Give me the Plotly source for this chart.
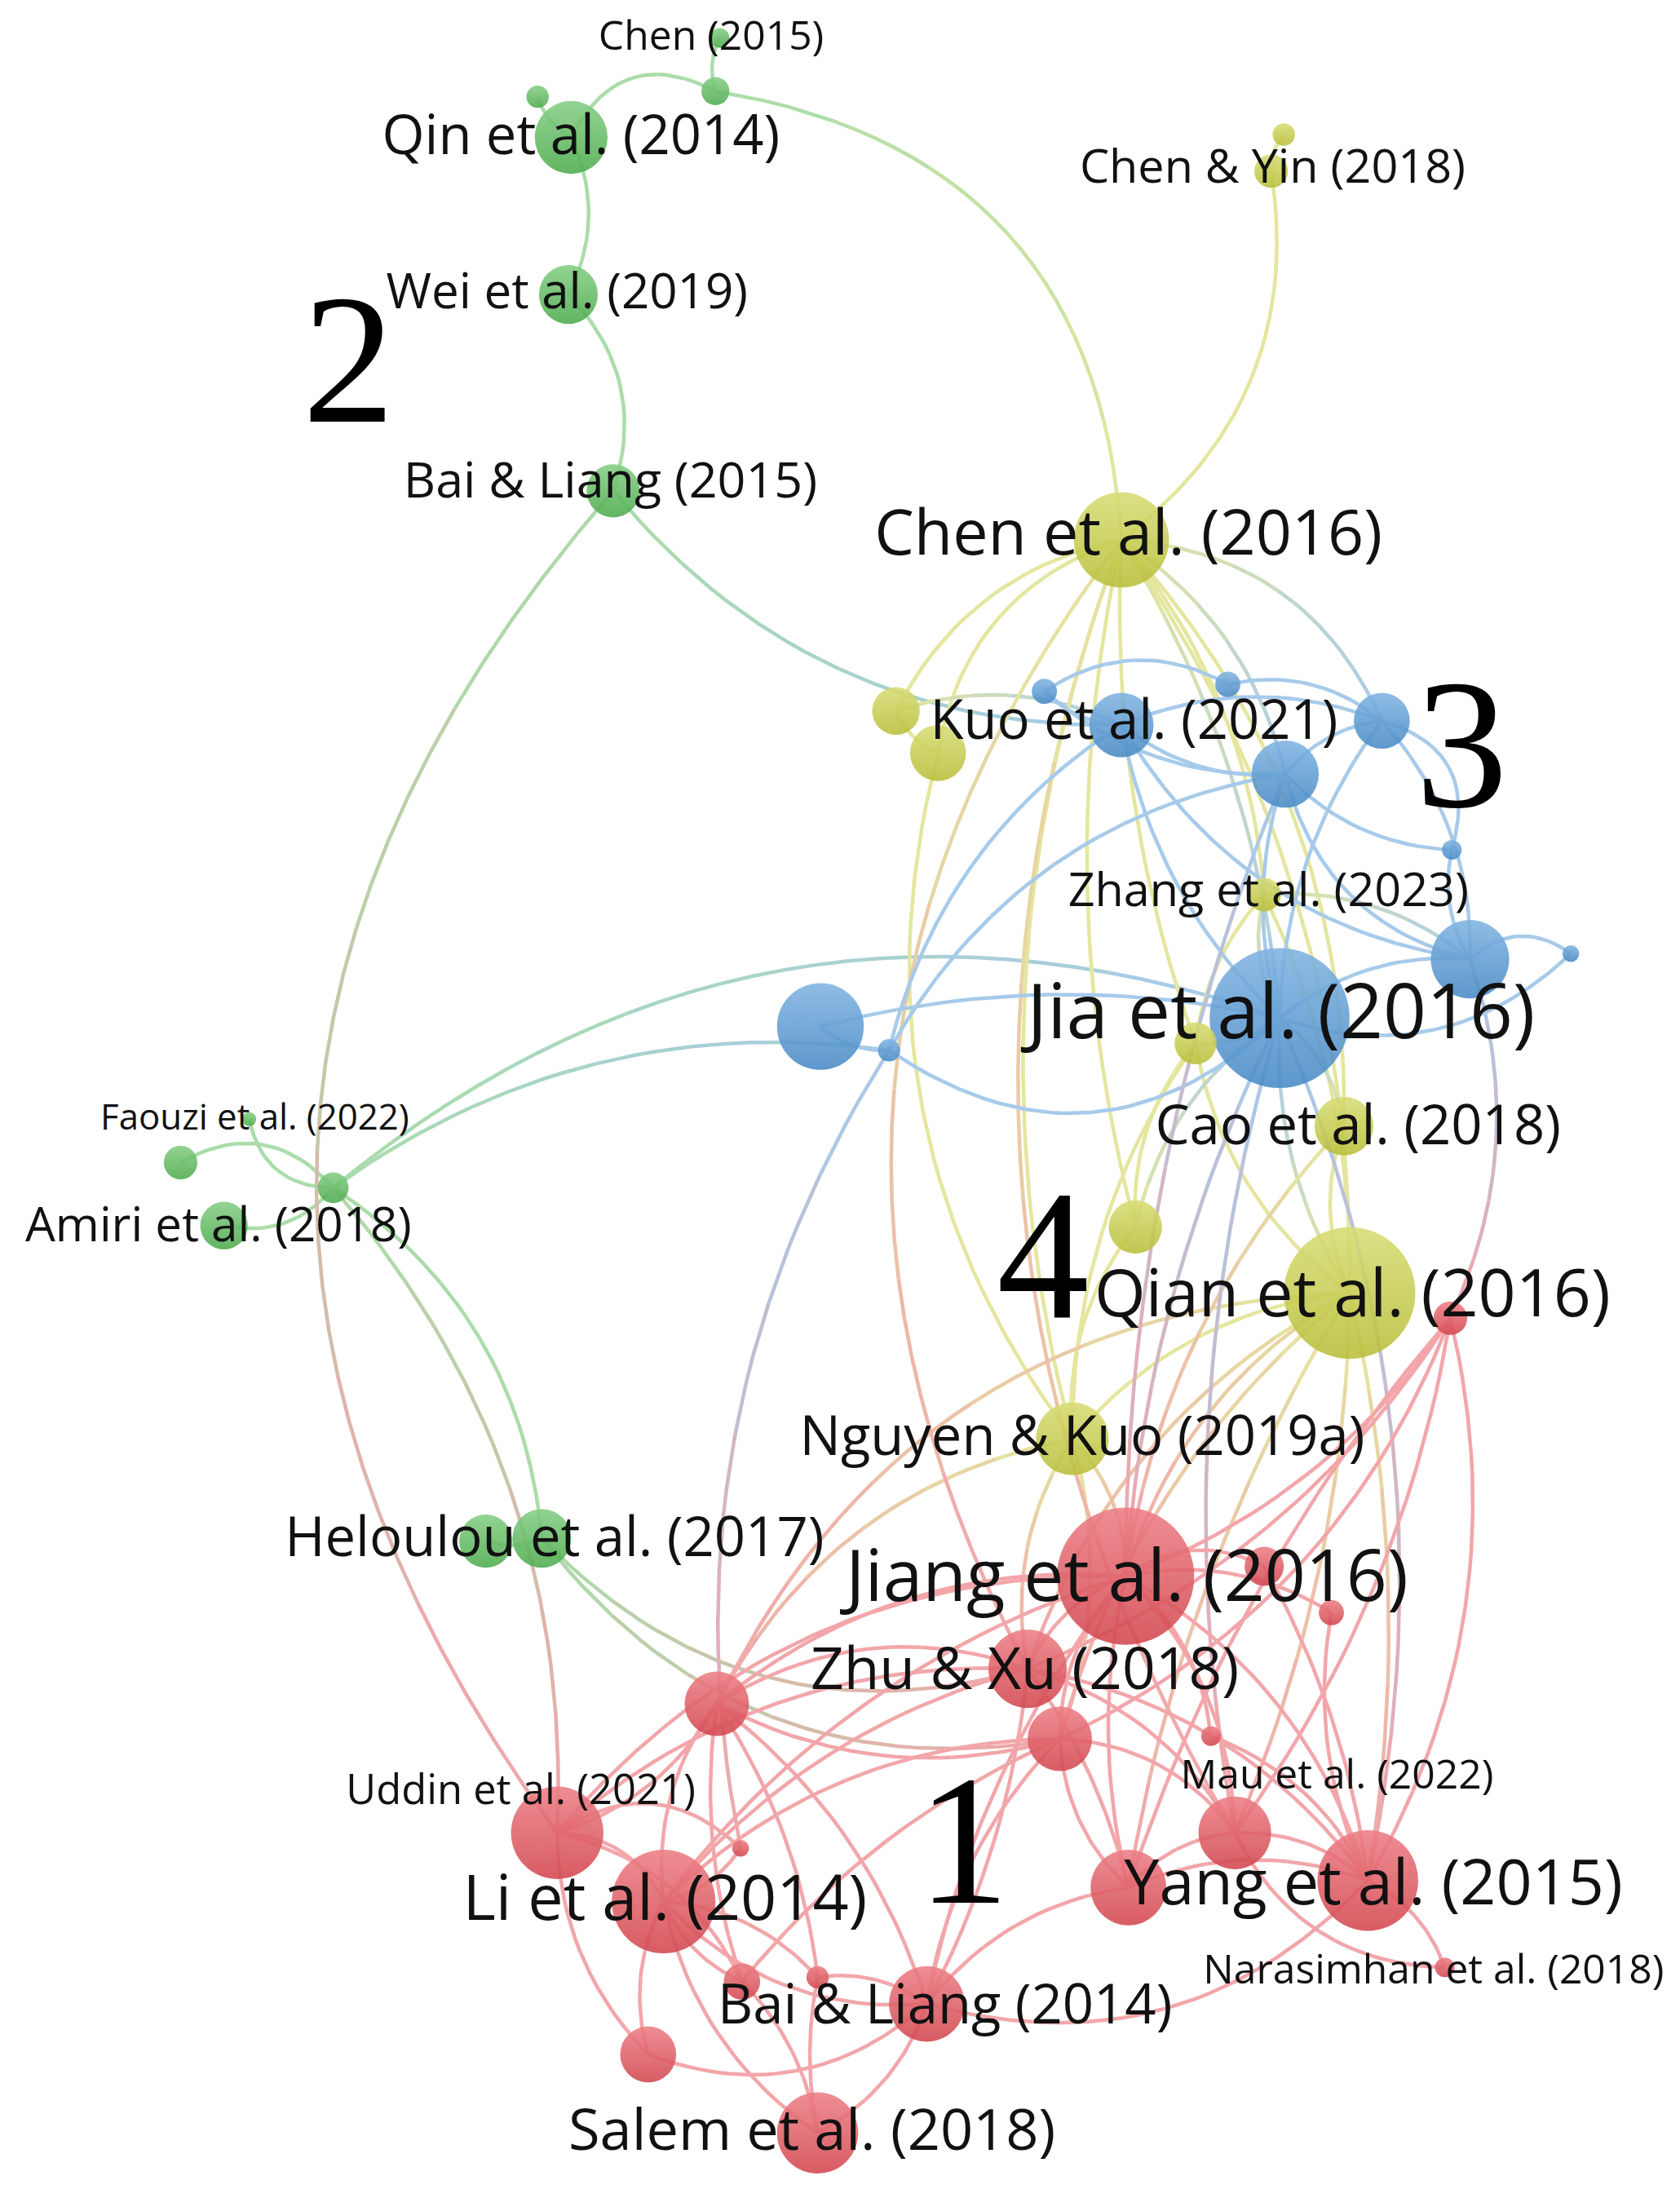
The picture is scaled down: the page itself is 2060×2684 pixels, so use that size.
import plotly.graph_objects as go

# ---------------- data (coordinates in a 1200 x 1561 map space) ----------------
node_ids = ["g_chen15", "g_n2", "g_n3", "g_qin", "g_wei", "g_bai15", "g_faouzi", "g_n129", "g_hub",
            "g_amiri", "g_hel1", "g_hel2",
            "y_cys", "y_chenyin", "y_chen16", "y_640", "y_670", "y_zhang", "y_854", "y_cao", "y_811",
            "y_qian", "y_nguyen",
            "b_746", "b_877", "b_kuo", "b_985", "b_917", "b_1036", "b_1050", "b_1121", "b_jia", "b_585", "b_635",
            "r_1035", "r_jiang", "r_903", "r_950", "r_zhu", "r_511", "r_756", "r_864", "r_mau", "r_uddin",
            "r_528", "r_li", "r_806", "r_yang", "r_nara", "r_530", "r_585", "r_bai14", "r_463", "r_salem"]
node_x = [514, 511, 384, 408, 406, 438, 178, 129, 238, 160, 347, 387,
          917, 908, 801, 640, 670, 903, 854, 960, 811, 964, 766,
          746, 877, 801, 987, 918, 1037, 1050, 1122, 914, 586, 635,
          1036, 804, 903, 951, 734, 512, 757, 865, 882, 398, 529, 474, 806, 977, 1032, 530, 584, 662, 463, 584]
node_y = [27, 65, 69, 98, 210, 350, 798, 829, 847, 874, 1099, 1097,
          96, 122, 385, 507, 537, 638, 744, 803, 875, 922, 1026,
          493, 488, 517, 514, 552, 606, 684, 680, 726, 732, 749,
          940, 1124, 1117, 1150, 1190, 1215, 1240, 1238, 1307, 1307, 1318, 1356, 1346, 1341, 1403, 1413, 1410,
          1429, 1465, 1521]
node_r = [7, 10, 8, 26, 21, 19, 5, 12, 11, 17, 19, 21,
          8, 12, 34, 17, 20, 12, 15, 21, 19, 47, 26,
          9, 9, 23, 20, 24, 7, 28, 6, 50, 31, 8,
          12, 49, 14, 9, 28, 23, 23, 7, 26, 33, 6, 37, 27, 36, 7, 13, 8, 27, 20, 29]
node_cluster = [2] * 12 + [4] * 11 + [3] * 11 + [1] * 20

label_text = ["Chen (2015)", "Qin et al. (2014)", "Wei et al. (2019)", "Bai & Liang (2015)",
              "Chen & Yin (2018)", "Chen et al. (2016)", "Kuo et al. (2021)", "Zhang et al. (2023)",
              "Jia et al. (2016)", "Cao et al. (2018)", "Faouzi et al. (2022)", "Amiri et al. (2018)",
              "Qian et al. (2016)", "Nguyen & Kuo (2019a)", "Heloulou et al. (2017)", "Jiang et al. (2016)",
              "Zhu & Xu (2018)", "Uddin et al. (2021)", "Mau et al. (2022)", "Li et al. (2014)",
              "Yang et al. (2015)", "Narasimhan et al. (2018)", "Bai & Liang (2014)", "Salem et al. (2018)"]
label_x = [508, 415, 405, 436, 909, 806, 810, 906, 915, 970, 182, 156, 966, 773, 396, 805, 732, 372,
           955, 475, 981, 1024, 675, 580]
label_y = [28, 100, 211, 346, 122, 384, 517, 638, 727, 806, 799, 877, 927, 1028, 1100, 1129, 1194, 1279,
           1268, 1358, 1347, 1407, 1433, 1523]
label_size = [29, 39, 35, 35.5, 33.5, 45, 39, 33.5, 54, 39, 25.5, 34, 47, 39, 39, 51, 41.5, 29.5,
              29, 45, 45, 29, 39, 41]

cluster_text = ["1", "2", "3", "4"]
cluster_x = [688, 249, 1044, 745]
cluster_y = [1324, 268, 542, 907]

# links: (source, target, bulge)
edges = [
    ("g_chen15", "g_n2", 0.1), ("g_n2", "g_qin", 0.25), ("g_n2", "y_chen16", -0.2), ("g_n3", "g_qin", 0.1),
    ("g_qin", "g_wei", -0.12), ("g_wei", "g_bai15", -0.15), ("g_bai15", "r_uddin", 0.2),
    ("g_bai15", "b_kuo", 0.12), ("g_hub", "b_jia", -0.14), ("g_hub", "b_635", -0.1),
    ("g_hub", "g_hel2", -0.12), ("g_hub", "r_uddin", -0.1), ("g_n129", "g_hub", -0.2),
    ("g_amiri", "g_hub", 0.15), ("g_faouzi", "g_hub", 0.2), ("g_hel2", "r_zhu", 0.15),
    ("g_hel2", "r_756", 0.15), ("g_hel1", "g_hel2", 0.1),
    ("y_chenyin", "y_chen16", -0.15), ("y_cys", "y_chenyin", 0.1), ("y_chen16", "y_670", 0.15),
    ("y_chen16", "y_640", 0.12), ("y_chen16", "y_zhang", -0.08), ("y_chen16", "b_jia", -0.06),
    ("y_chen16", "y_cao", -0.1), ("y_chen16", "y_qian", -0.08), ("y_chen16", "y_854", 0.05),
    ("y_chen16", "b_917", -0.1), ("y_chen16", "b_985", -0.15), ("y_chen16", "y_811", 0.06),
    ("y_chen16", "y_nguyen", 0.08), ("y_chen16", "r_zhu", 0.16), ("y_chen16", "r_mau", 0.12),
    ("y_670", "y_nguyen", 0.12), ("y_640", "y_670", 0.1), ("y_640", "b_kuo", -0.1),
    ("y_811", "b_jia", -0.1), ("y_811", "y_nguyen", 0.1), ("y_854", "y_qian", 0.1),
    ("y_854", "y_nguyen", 0.08), ("y_854", "b_jia", 0.1), ("y_cao", "y_qian", 0.1),
    ("y_cao", "b_jia", 0.1), ("y_zhang", "b_jia", 0.1), ("y_zhang", "y_qian", -0.06),
    ("y_zhang", "b_1050", -0.1), ("y_qian", "y_nguyen", 0.1), ("y_qian", "b_jia", -0.08),
    ("y_854", "y_811", 0.1), ("y_zhang", "y_854", 0.08),
    ("b_746", "b_kuo", 0.1), ("b_746", "b_877", -0.15), ("b_877", "b_985", -0.12),
    ("b_kuo", "b_917", 0.1), ("b_kuo", "b_jia", 0.08), ("b_kuo", "b_1050", 0.12),
    ("b_985", "b_917", 0.1), ("b_985", "b_1036", -0.25), ("b_985", "b_jia", 0.08),
    ("b_985", "b_1050", -0.1), ("b_917", "b_jia", 0.08), ("b_917", "b_1036", 0.1),
    ("b_917", "b_1050", 0.15), ("b_1036", "b_1050", 0.1), ("b_1050", "b_1121", -0.2),
    ("b_1121", "b_jia", -0.15), ("b_jia", "b_1050", -0.1), ("b_585", "b_635", 0.1),
    ("b_585", "b_jia", -0.06), ("b_635", "b_jia", 0.2), ("b_635", "b_kuo", -0.1),
    ("b_635", "b_917", -0.12), ("b_kuo", "b_985", -0.1), ("b_746", "b_917", 0.1),
    ("b_635", "r_528", 0.1), ("b_1050", "r_1035", -0.1), ("b_jia", "r_jiang", 0.05),
    ("b_jia", "r_yang", -0.08), ("b_jia", "r_mau", 0.06), ("b_917", "r_jiang", 0.05),
    ("y_qian", "r_jiang", 0.1), ("y_qian", "r_zhu", 0.1), ("y_qian", "r_756", 0.08),
    ("y_qian", "r_511", 0.15), ("y_qian", "r_yang", -0.05), ("y_qian", "r_806", 0.05),
    ("y_qian", "r_mau", -0.05), ("y_nguyen", "r_jiang", -0.1), ("y_nguyen", "r_511", 0.12),
    ("y_nguyen", "r_zhu", 0.1), ("y_nguyen", "r_756", -0.08), ("y_cao", "r_jiang", 0.08),
    ("r_1035", "r_jiang", -0.08), ("r_1035", "r_zhu", -0.08), ("r_1035", "r_756", -0.1),
    ("r_1035", "r_yang", -0.1), ("r_1035", "r_806", 0.05),
    ("r_jiang", "r_zhu", 0.1), ("r_jiang", "r_756", 0.1), ("r_jiang", "r_511", 0.1),
    ("r_jiang", "r_mau", -0.1), ("r_jiang", "r_yang", -0.1), ("r_jiang", "r_806", 0.06),
    ("r_jiang", "r_li", 0.08), ("r_jiang", "r_bai14", 0.06), ("r_jiang", "r_950", -0.1),
    ("r_jiang", "r_903", -0.15), ("r_jiang", "r_uddin", 0.12),
    ("r_zhu", "r_511", 0.12), ("r_zhu", "r_li", 0.08), ("r_zhu", "r_bai14", -0.05),
    ("r_zhu", "r_yang", -0.1), ("r_zhu", "r_mau", -0.1), ("r_zhu", "r_uddin", 0.1),
    ("r_756", "r_806", 0.1), ("r_756", "r_li", 0.1), ("r_756", "r_bai14", 0.08),
    ("r_756", "r_mau", -0.12), ("r_756", "r_511", -0.1), ("r_756", "r_530", 0.06),
    ("r_511", "r_li", 0.1), ("r_511", "r_uddin", -0.1), ("r_511", "r_530", 0.06),
    ("r_511", "r_585", -0.06), ("r_511", "r_bai14", -0.08),
    ("r_uddin", "r_li", -0.15), ("r_uddin", "r_528", -0.2), ("r_uddin", "r_463", 0.1),
    ("r_uddin", "r_530", -0.12),
    ("r_li", "r_bai14", 0.12), ("r_li", "r_salem", 0.1), ("r_li", "r_530", 0.1),
    ("r_li", "r_585", -0.1), ("r_li", "r_463", 0.1), ("r_463", "r_bai14", 0.15),
    ("r_bai14", "r_806", -0.1), ("r_bai14", "r_salem", -0.1), ("r_bai14", "r_yang", 0.15),
    ("r_bai14", "r_585", 0.1), ("r_salem", "r_585", -0.05), ("r_salem", "r_530", 0.08),
    ("r_806", "r_yang", -0.1), ("r_806", "r_mau", -0.1), ("r_806", "r_zhu", 0.05),
    ("r_yang", "r_mau", 0.1), ("r_yang", "r_nara", -0.1), ("r_mau", "r_nara", 0.15),
    ("r_yang", "r_864", 0.1), ("r_864", "r_jiang", 0.1), ("r_903", "r_yang", -0.05),
    ("r_950", "r_yang", 0.08), ("r_1035", "r_mau", -0.06), ("r_li", "r_528", 0.1),
]

# ---------------- styling ----------------
S = 2060 / 1200.0
W, H = 2060, 2684
cluster_rgb = {1: (228, 76, 86), 2: (84, 186, 84), 3: (78, 150, 214), 4: (200, 206, 62)}
EDGE_ALPHA = 0.5


def mix(c1, c2, t):
    return tuple(c1[i] * (1 - t) + c2[i] * t for i in range(3))


def on_white(c, a):
    return tuple(255 * (1 - a) + c[i] * a for i in range(3))


def css(c):
    return "rgb(%d,%d,%d)" % tuple(int(round(v)) for v in c)


idx = {n: i for i, n in enumerate(node_ids)}
fig = go.Figure()

# links as gradient-coloured quadratic curves
NPTS = 30
NCH = 6
groups = {}
for a, b, bulge in edges:
    ia, ib = idx[a], idx[b]
    x0, y0 = node_x[ia], node_y[ia]
    x2, y2 = node_x[ib], node_y[ib]
    dx, dy = x2 - x0, y2 - y0
    L = (dx * dx + dy * dy) ** 0.5
    nx, ny = -dy / L, dx / L
    cx = (x0 + x2) / 2 + 2 * bulge * L * nx
    cy = (y0 + y2) / 2 + 2 * bulge * L * ny
    pts = []
    for k in range(NPTS + 1):
        t = k / NPTS
        px = (1 - t) ** 2 * x0 + 2 * (1 - t) * t * cx + t * t * x2
        py = (1 - t) ** 2 * y0 + 2 * (1 - t) * t * cy + t * t * y2
        pts.append((px, py))
    ca, cb = cluster_rgb[node_cluster[ia]], cluster_rgb[node_cluster[ib]]
    step = NPTS // NCH
    for ch in range(NCH):
        tm = (ch + 0.5) / NCH
        col = css(on_white(mix(ca, cb, tm), EDGE_ALPHA))
        seg = pts[ch * step: (ch + 1) * step + 1]
        gx, gy = groups.setdefault(col, ([], []))
        gx.extend([p[0] for p in seg] + [None])
        gy.extend([p[1] for p in seg] + [None])

for col, (gx, gy) in groups.items():
    fig.add_trace(go.Scatter(x=gx, y=gy, mode="lines", line=dict(color=col, width=4.5),
                             hoverinfo="skip", showlegend=False))

# nodes (largest first so small ones stay visible)
order = sorted(range(len(node_ids)), key=lambda i: -node_r[i])
top_cols = [css(on_white(cluster_rgb[node_cluster[i]], 0.72)) for i in order]
bot_cols = [css(tuple(v * 0.92 for v in cluster_rgb[node_cluster[i]])) for i in order]
fig.add_trace(go.Scatter(
    x=[node_x[i] for i in order], y=[node_y[i] for i in order], mode="markers",
    marker=dict(size=[2 * node_r[i] * S for i in order], color=top_cols, opacity=0.88,
                gradient=dict(type="vertical", color=bot_cols), line=dict(width=0)),
    hoverinfo="skip", showlegend=False))

# labels
fig.add_trace(go.Scatter(
    x=label_x, y=label_y, mode="text", text=label_text, textposition="middle center",
    textfont=dict(family="Open Sans", size=[s * S for s in label_size], color="#111111"),
    hoverinfo="skip", showlegend=False))

# cluster numbers
fig.add_trace(go.Scatter(
    x=cluster_x, y=cluster_y, mode="text", text=cluster_text, textposition="middle center",
    textfont=dict(family="Liberation Serif", size=132 * S, color="#000000"),
    hoverinfo="skip", showlegend=False))

fig.update_layout(
    width=W, height=H, margin=dict(l=0, r=0, t=0, b=0),
    paper_bgcolor="white", plot_bgcolor="white",
    xaxis=dict(range=[0, 1200], visible=False, fixedrange=True),
    yaxis=dict(range=[1561, 0], visible=False, fixedrange=True),
)
fig.write_html("out.html", config={"displayModeBar": False},
               post_script="document.body.style.margin='0';document.body.style.overflow='hidden';")
